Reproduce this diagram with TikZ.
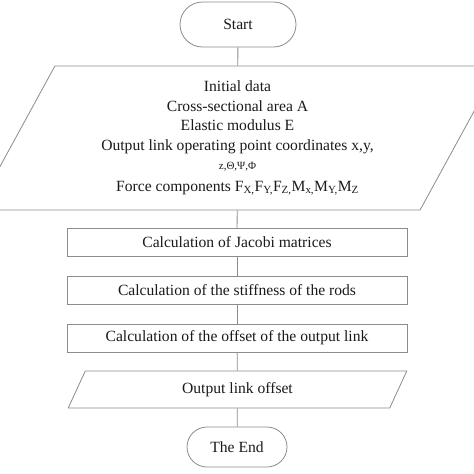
\documentclass[tikz,border=0pt]{standalone}
\usepackage{fontspec}
\setmainfont{Liberation Serif}
\usepackage{xcolor}
\usetikzlibrary{shapes.geometric, shapes.misc}
\definecolor{edge-gray}{HTML}{8C8C8C}
\definecolor{ink}{HTML}{1A1A1A}

\begin{document}
\begin{tikzpicture}[x=1pt, y=1pt,
    every node/.style={font=\fontsize{15.6}{19.5}\selectfont, text=ink},
    terminal/.style={draw=edge-gray, line width=0.8pt, rounded rectangle, inner sep=0pt},
    process/.style={draw=edge-gray, line width=0.8pt, rectangle, minimum width=340, minimum height=28, inner sep=0pt},
    io/.style={draw=edge-gray, line width=0.8pt, trapezium, trapezium stretches=true, inner sep=0pt},
    link/.style={draw=edge-gray, line width=0.8pt}]
    \useasboundingbox (0,0) rectangle (474,-474);
    \clip (0,0) rectangle (474,-474);
    \fill[white] (0,0) rectangle (474,-474);
    \node[terminal, minimum width=116, minimum height=45] (start) at (238,-24.5) {Start};
    \node[io, trapezium left angle=62.8, trapezium right angle=117.2, minimum width=523, minimum height=144, align=center] (input) at (237.5,-138)
      {Initial data\\Cross-sectional area A\\Elastic modulus E\\Output link operating point coordinates x,y,\\
       {\fontsize{11}{13}\selectfont z,Θ,Ψ,Φ}\\[2pt]
       Force components F\textsubscript{X,}F\textsubscript{Y,}F\textsubscript{Z,}M\textsubscript{x,}M\textsubscript{Y,}M\textsubscript{Z}};
    \node[process] (jacobi) at (237,-242.5) {Calculation of Jacobi matrices};
    \node[process] (stiff) at (237,-290.5) {Calculation of the stiffness of the rods};
    \node[process] (offset) at (237,-338) {Calculation of the offset of the output link};
    \node[io, trapezium left angle=66.6, trapezium right angle=113.4, minimum width=339, minimum height=37] (output) at (237.5,-389.5) {Output link offset};
    \node[terminal, minimum width=100, minimum height=40] (end) at (237,-447) {The End};
    \draw[link] (start) -- (input);
    \draw[link] (input) -- (jacobi);
    \draw[link] (jacobi) -- (stiff);
    \draw[link] (stiff) -- (offset);
    \draw[link] (offset) -- (output);
    \draw[link] (output) -- (end);
  \end{tikzpicture}
\end{document}
